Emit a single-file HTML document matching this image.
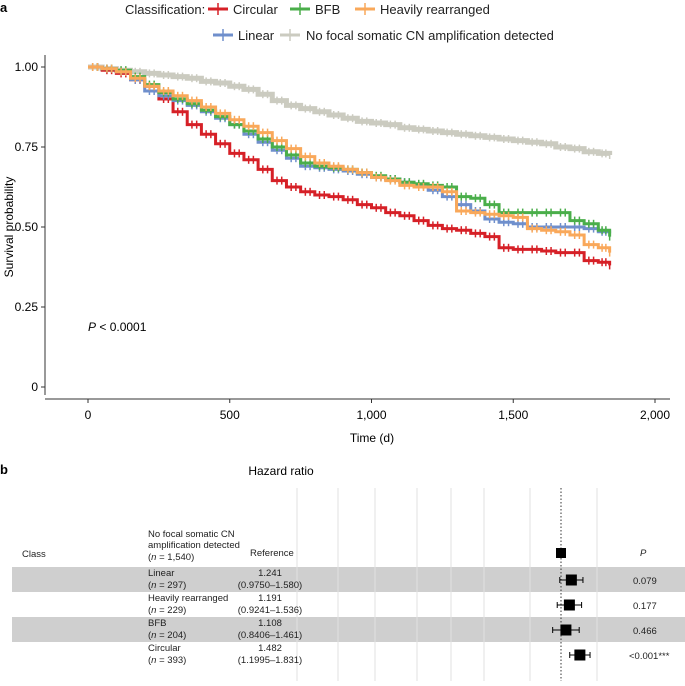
<!DOCTYPE html>
<html><head><meta charset="utf-8">
<style>
body{margin:0;background:#fff;font-family:"Liberation Sans",sans-serif;}
svg text{font-family:"Liberation Sans",sans-serif;}
</style></head>
<body>
<svg id="chart" width="685" height="681" viewBox="0 0 685 681" xmlns="http://www.w3.org/2000/svg">
<text x="0" y="12" font-size="13" font-weight="bold">a</text>
<g font-size="13" fill="#222">
<text x="125" y="14">Classification:</text>
<g><line x1="208" y1="9" x2="228" y2="9" stroke="#d62027" stroke-width="3"/><line x1="218" y1="3" x2="218" y2="15" stroke="#d62027" stroke-width="1.5"/><text x="233" y="14">Circular</text></g>
<g><line x1="290" y1="9" x2="310" y2="9" stroke="#4aae4a" stroke-width="3"/><line x1="300" y1="3" x2="300" y2="15" stroke="#4aae4a" stroke-width="1.5"/><text x="315" y="14">BFB</text></g>
<g><line x1="355" y1="9" x2="375" y2="9" stroke="#f9a85a" stroke-width="3"/><line x1="365" y1="3" x2="365" y2="15" stroke="#f9a85a" stroke-width="1.5"/><text x="380" y="14">Heavily rearranged</text></g>
<g><line x1="213" y1="35" x2="233" y2="35" stroke="#6f8fcc" stroke-width="3"/><line x1="223" y1="29" x2="223" y2="41" stroke="#6f8fcc" stroke-width="1.5"/><text x="238" y="40">Linear</text></g>
<g><line x1="280" y1="35" x2="300" y2="35" stroke="#cbcbc0" stroke-width="3"/><line x1="290" y1="29" x2="290" y2="41" stroke="#cbcbc0" stroke-width="1.5"/><text x="306" y="40">No focal somatic CN amplification detected</text></g>
</g>
<g id="axes"></g>
<g id="curves"></g>
<text x="88" y="331" font-size="12"><tspan font-style="italic">P</tspan> &lt; 0.0001</text>
<text transform="translate(13,227) rotate(-90)" text-anchor="middle" font-size="12">Survival probability</text>
<text x="372" y="442" text-anchor="middle" font-size="12">Time (d)</text>

<text x="0" y="474" font-size="13" font-weight="bold">b</text>
<text x="281" y="475" text-anchor="middle" font-size="12">Hazard ratio</text>
<g id="forest"></g>
</svg>
<script>
// KM data (day, survival)
const gray=[[0,1],[50,.995],[100,.99],[150,.985],[200,.98],[250,.975],[300,.97],[350,.965],[400,.955],[450,.95],[500,.94],[550,.93],[600,.915],[650,.895],[700,.88],[750,.87],[800,.86],[850,.85],[900,.84],[950,.83],[1000,.825],[1050,.82],[1100,.81],[1150,.805],[1200,.80],[1250,.795],[1300,.79],[1350,.785],[1400,.78],[1450,.775],[1500,.77],[1550,.765],[1600,.76],[1650,.75],[1700,.745],[1750,.735],[1800,.73],[1840,.725]];
const red=[[0,1],[50,.99],[100,.98],[150,.96],[200,.94],[250,.90],[300,.86],[350,.82],[400,.79],[450,.76],[500,.73],[550,.71],[600,.68],[650,.645],[700,.625],[750,.61],[800,.60],[850,.595],[900,.585],[950,.57],[1000,.56],[1050,.545],[1100,.535],[1150,.52],[1200,.505],[1250,.495],[1300,.49],[1350,.48],[1400,.47],[1450,.435],[1500,.43],[1550,.43],[1600,.425],[1650,.42],[1700,.42],[1750,.395],[1800,.39],[1840,.38]];
const blue=[[0,1],[50,.995],[100,.985],[150,.96],[200,.925],[250,.91],[300,.895],[350,.88],[400,.86],[450,.84],[500,.82],[550,.79],[600,.765],[650,.74],[700,.715],[750,.69],[800,.685],[850,.68],[900,.675],[950,.665],[1000,.655],[1050,.65],[1100,.64],[1150,.63],[1200,.615],[1250,.595],[1300,.57],[1350,.55],[1400,.525],[1450,.515],[1500,.51],[1550,.50],[1600,.50],[1650,.50],[1700,.50],[1750,.495],[1800,.485],[1840,.48]];
const green=[[0,1],[50,.995],[100,.99],[150,.97],[200,.945],[250,.92],[300,.90],[350,.885],[400,.865],[450,.845],[500,.82],[550,.80],[600,.775],[650,.75],[700,.725],[750,.70],[800,.69],[850,.685],[900,.68],[950,.67],[1000,.66],[1050,.65],[1100,.64],[1150,.635],[1200,.63],[1250,.625],[1300,.595],[1350,.59],[1400,.57],[1450,.545],[1500,.545],[1550,.545],[1600,.545],[1650,.545],[1700,.52],[1750,.51],[1800,.49],[1840,.47]];
const orange=[[0,1],[50,.995],[100,.985],[150,.965],[200,.94],[250,.925],[300,.91],[350,.895],[400,.875],[450,.855],[500,.835],[550,.815],[600,.795],[650,.77],[700,.745],[750,.72],[800,.70],[850,.69],[900,.68],[950,.67],[1000,.655],[1050,.645],[1100,.63],[1150,.625],[1200,.625],[1250,.61],[1300,.55],[1350,.545],[1400,.54],[1450,.535],[1500,.53],[1550,.495],[1600,.49],[1650,.485],[1700,.475],[1750,.445],[1800,.435],[1840,.42]];
const seriesNames=['no-focal','circular','linear','bfb','heavily-rearranged'];
const seriesColors=['#cbcbc0','#d62027','#6f8fcc','#4aae4a','#f9a85a'];
const seriesData=[gray,red,blue,green,orange];
const xTicks=[0,500,1000,1500,2000];
const xTickLabels=['0','500','1,000','1,500','2,000'];
const yTicks=[0,0.25,0.5,0.75,1];
const yTickLabels=['0','0.25','0.50','0.75','1.00'];
// forest data
const rowNames=['Linear','Heavily rearranged','BFB','Circular'];
const rowN=['297','229','204','393'];
const hr=[1.241,1.191,1.108,1.482];
const ciLo=[0.975,0.9241,0.8406,1.1995];
const ciHi=[1.580,1.536,1.461,1.831];
const hrText=['1.241','1.191','1.108','1.482'];
const ciText=['(0.9750–1.580)','(0.9241–1.536)','(0.8406–1.461)','(1.1995–1.831)'];
const pText=['0.079','0.177','0.466','<0.001***'];

const NS='http://www.w3.org/2000/svg';
function mk(tag,attrs,parent){const e=document.createElementNS(NS,tag);for(const k in attrs)e.setAttribute(k,attrs[k]);parent.appendChild(e);return e;}
const xs=d=>88+d*0.2835, ys=v=>387-v*320;
const ax=document.getElementById('axes');
let l=mk('line',{x1:45,y1:55,x2:45,y2:395,stroke:'#333','stroke-width':1},ax);


l=mk('line',{x1:45,y1:399,x2:670,y2:399,stroke:'#333','stroke-width':1},ax);


yTicks.forEach((v,i)=>{mk('line',{x1:41,y1:ys(v),x2:45,y2:ys(v),stroke:'#333'},ax);
 const t=mk('text',{x:38,y:ys(v)+4,'text-anchor':'end','font-size':12},ax);t.textContent=yTickLabels[i];
 
 });
xTicks.forEach((v,i)=>{mk('line',{x1:xs(v),y1:399,x2:xs(v),y2:403,stroke:'#333'},ax);
 const t=mk('text',{x:xs(v),y:419,'text-anchor':'middle','font-size':12},ax);t.textContent=xTickLabels[i];
 
 });
const cv=document.getElementById('curves');
seriesData.forEach((pts,si)=>{
 let d='M'+xs(pts[0][0])+','+ys(pts[0][1]);
 for(let i=1;i<pts.length;i++){d+=' H'+xs(pts[i][0])+' V'+ys(pts[i][1]);}
 const g=mk('g',{},cv);
 
 
 const sw=si===0?5:3;
 mk('path',{d:d,fill:'none',stroke:seriesColors[si],'stroke-width':sw},g);
 for(let i=0;i<pts.length-1;i++){
  for(let k=1;k<=2;k++){const x=xs(pts[i][0]+(pts[i+1][0]-pts[i][0])*k/3);const y=ys(pts[i][1]);
   mk('line',{x1:x,y1:y-4,x2:x,y2:y+4,stroke:seriesColors[si],'stroke-width':1.5},g);}
 }
 const last=pts[pts.length-1];
 mk('line',{x1:xs(last[0]),y1:ys(last[1])-4,x2:xs(last[0]),y2:ys(last[1])+4,stroke:seriesColors[si],'stroke-width':1.5},g);
});
// forest
const fp=document.getElementById('forest');
const hx=v=>561+Math.log(v)*48;
const rowY=[580,605,630,655];
[0,2].forEach(i=>{const r=mk('rect',{x:12,y:rowY[i]-13,width:673,height:25,fill:'#cfcfcf'},fp);
 
 });
[297,338,375,417,451,484,530,597].forEach(x=>mk('line',{x1:x,y1:488,x2:x,y2:681,stroke:'#e2e2e2','stroke-width':1},fp));
mk('line',{x1:561,y1:488,x2:561,y2:681,stroke:'#333','stroke-dasharray':'1.5,2','stroke-width':1},fp);
function txt(x,y,s,attrs,name){const t=mk('text',Object.assign({x:x,y:y,'font-size':9.5,fill:'#222'},attrs||{}),fp);t.textContent=s;
 
 return t;}
txt(22,557,'Class',{},'class-header');
txt(148,537,'No focal somatic CN',{},'ref-name');
txt(148,548,'amplification detected',{},'ref-name');
const rn=txt(148,560,'',{},'ref-n');rn.innerHTML='(<tspan font-style="italic">n</tspan> = 1,540)';
txt(250,556,'Reference',{},'reference-label');
txt(640,556,'P',{'font-style':'italic'},'p-header');
let sq=mk('rect',{x:556,y:548,width:10,height:10,fill:'#000'},fp);


rowNames.forEach((n,i)=>{const y=rowY[i];
 txt(148,y-4,n,{},'row-name');
 const t=txt(148,y+8,'',{},'row-n');t.innerHTML='(<tspan font-style="italic">n</tspan> = '+rowN[i]+')';
 txt(270,y-4,hrText[i],{'text-anchor':'middle'},'hr-value');
 txt(270,y+8,ciText[i],{'text-anchor':'middle'},'ci-value');
 txt(pText[i].length>6?629:633,y+4,pText[i],{},'p-value');
 const g=mk('g',{},fp);
 
 
 mk('line',{x1:hx(ciLo[i]),y1:y,x2:hx(ciHi[i]),y2:y,stroke:'#000'},g);
 mk('line',{x1:hx(ciLo[i]),y1:y-3,x2:hx(ciLo[i]),y2:y+3,stroke:'#000'},g);
 mk('line',{x1:hx(ciHi[i]),y1:y-3,x2:hx(ciHi[i]),y2:y+3,stroke:'#000'},g);
 mk('rect',{x:hx(hr[i])-5.5,y:y-5.5,width:11,height:11,fill:'#000'},g);
});
</script>
</body></html>
